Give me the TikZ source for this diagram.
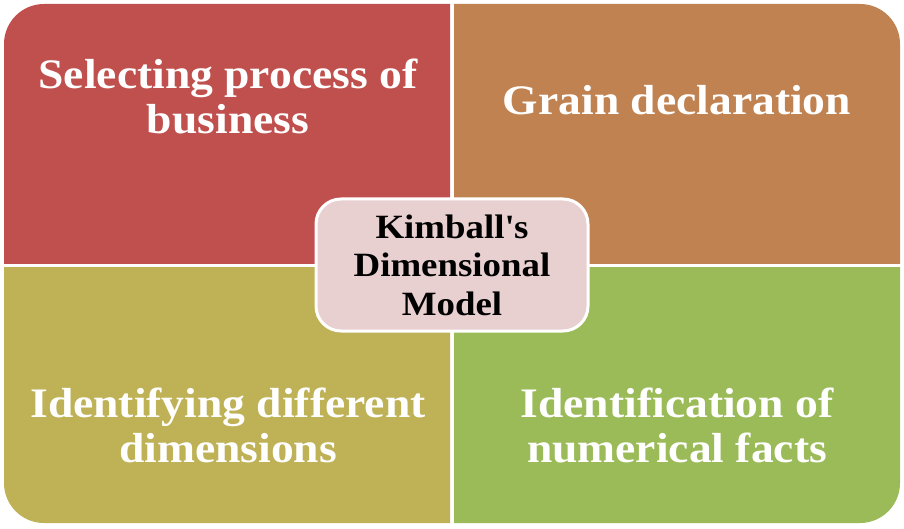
\documentclass[tikz,border=0pt]{standalone}
\usepackage{fontspec}
\setmainfont{Liberation Serif}[FakeStretch=1.085]
\definecolor{processred}{RGB}{192, 80, 77}
\definecolor{grainbrown}{RGB}{192, 130, 80}
\definecolor{dimolive}{RGB}{191, 177, 86}
\definecolor{factgreen}{RGB}{155, 187, 89}
\definecolor{hubpink}{RGB}{232, 208, 209}
\usetikzlibrary{positioning}

\begin{document}
\begin{tikzpicture}[x=1pt, y=-1pt,
		quadtext/.style={text=white, align=center, font=\fontsize{42}{45}\selectfont\bfseries},
		hub/.style={draw=white, line width=3pt, fill=hubpink, rounded corners=25pt, align=center, minimum width=272pt, minimum height=132pt, font=\fontsize{34}{38.5}\selectfont\bfseries}
		]
		\useasboundingbox (0,0) rectangle (904,529);
		
		% quadrants: only the outer corner is rounded
		\foreach \col/\xa/\ya/\xb/\yb in {processred/4/4/450/263, grainbrown/454/4/900/263, dimolive/4/267/450/523, factgreen/454/267/900/523}{
			\begin{scope}
				\clip (\xa,\ya) rectangle (\xb,\yb);
				\fill[\col, rounded corners=40pt] (4,4) rectangle (900,523);
			\end{scope}
		}
		
		\node[quadtext] (t1) at (228,96) {Selecting process of\\business};
		\node[quadtext] (t2) at (677,100) {Grain declaration};
		\node[quadtext] (t3) at (228,425) {Identifying different\\dimensions};
		\node[quadtext] (t4) at (677,425) {Identification of\\numerical facts};
		
		\node[hub] (model) at (452,265) {Kimball\textquotesingle s\\Dimensional\\Model};
	\end{tikzpicture}
\end{document}
